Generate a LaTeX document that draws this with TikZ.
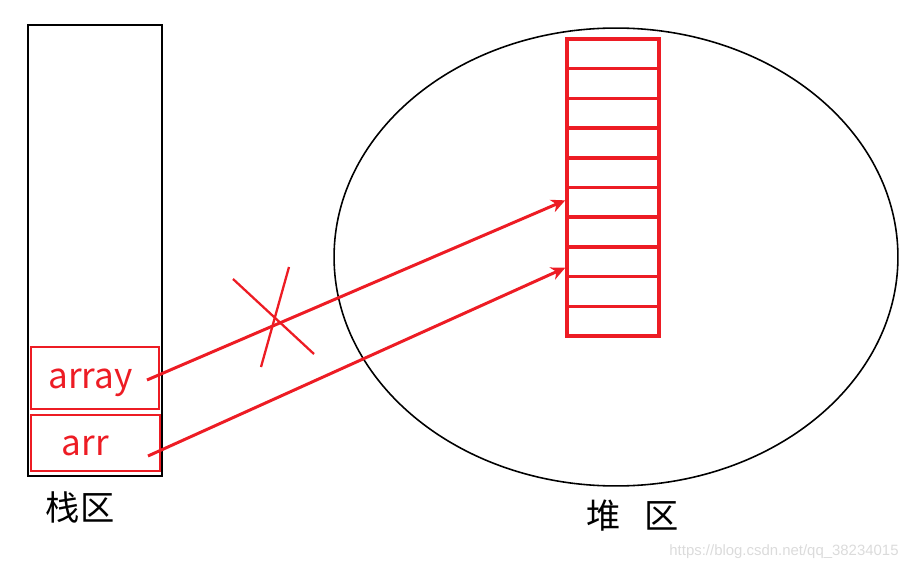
\documentclass[tikz,border=0pt]{standalone}
\usepackage{fontspec}
\setmainfont{Noto Sans CJK SC}
\newfontfamily\urlfont{Liberation Sans}
\usetikzlibrary{arrows.meta,shapes.geometric,positioning}
\definecolor{mark}{RGB}{237,28,36}

\begin{document}
\begin{tikzpicture}[x=0.02cm,y=-0.02cm,>={Stealth[length=8pt,width=7.5pt,inset=2.5pt]},
                    inner sep=0pt,font=\fontsize{19.5}{22}\selectfont]
  \tikzstyle{region}=[draw=black,line width=1.1pt]
  \tikzstyle{slot}=[draw=mark,line width=1.2pt]
  \tikzstyle{vartext}=[text=mark,font=\fontsize{20}{22}\selectfont]
  \tikzstyle{cell}=[draw=mark,line width=2pt,minimum width=1.84cm,
                    minimum height=0.594cm]
  \tikzstyle{pointer}=[->,draw=mark,line width=1.7pt]
  \tikzstyle{strike}=[draw=mark,line width=1.3pt]

  \useasboundingbox (0,0) rectangle (916,571);

  % stack
  \node[region,minimum width=2.68cm,minimum height=9.02cm] (stack) at (95,250.5) {};
  \node[slot,minimum width=2.56cm,minimum height=1.24cm] (array) at (95,378) {};
  \node[slot,minimum width=2.58cm,minimum height=1.12cm] (arr) at (95.5,443) {};
  \node[vartext] (arrayname) at ([xshift=-0.09cm,yshift=-0.1cm]array.center) {array};
  \node[vartext] (arrname) at ([xshift=-0.2cm,yshift=-0.06cm]arr.center) {arr};
  \node (stacklabel) at (80,507) {栈区};

  % heap
  \node[region,ellipse,line width=0.9pt,minimum width=11.28cm,
        minimum height=9.16cm] (heap) at (616,257) {};
  \foreach \i in {1,...,10}
    \node[cell] (cell\i) at (613,{39+29.7*(\i-0.5)}) {};
  \node (heaplabel) at (633,516) {堆\hspace{0.7em}区};

  % pointers
  \coordinate (arrayptr) at (147,380);
  \coordinate (arrptr) at (148,456);
  \draw[pointer] (arrayptr) -- ([yshift=0.04cm]cell6.west);
  \draw[pointer] (arrptr) -- ([yshift=-0.12cm]cell8.west);

  % crossed out
  \draw[strike] (233,279) -- (314,354);
  \draw[strike] (289,267) -- (261,367);

  \node[text=black!14,font=\urlfont\fontsize{8.5}{10}\selectfont] (url)
    at (784,552) {https://blog.csdn.net/qq\_38234015};
\end{tikzpicture}
\end{document}
